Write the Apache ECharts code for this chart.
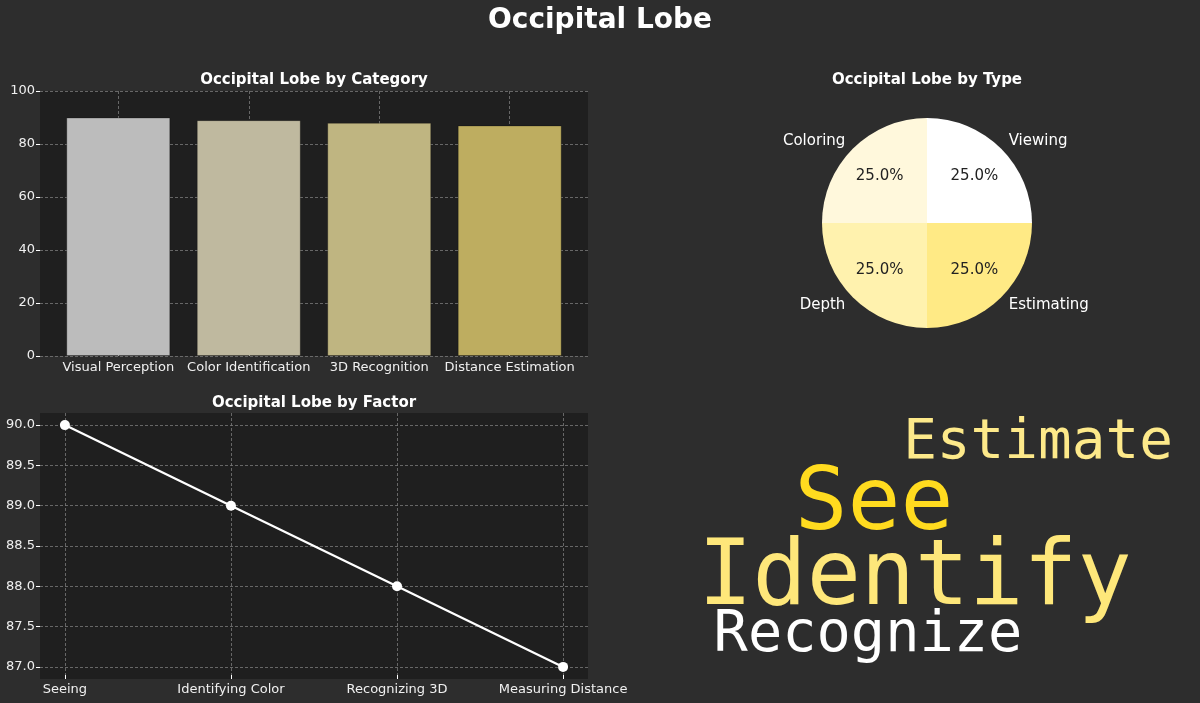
<!DOCTYPE html>
<html>
<head>
<meta charset="utf-8">
<script src="https://cdn.jsdelivr.net/npm/echarts@6/dist/echarts.min.js"></script>
<style>
html,body{margin:0;padding:0;background:#2d2d2d;}
#chart{width:1200px;height:703px;}
</style>
</head>
<body>
<div id="chart"></div>
<script>
// ---- data ----
var mainTitle = 'Occipital Lobe';
var barTitle = 'Occipital Lobe by Category';
var barCategories = ['Visual Perception', 'Color Identification', '3D Recognition', 'Distance Estimation'];
var barValues = [90, 89, 88, 87];
var barColors = ['#bcbcbc', '#bfb99f', '#bfb581', '#bead60'];
var barYTicks = [0, 20, 40, 60, 80, 100];

var pieTitle = 'Occipital Lobe by Type';
var pieNames = ['Viewing', 'Coloring', 'Depth', 'Estimating'];
var pieValues = [25, 25, 25, 25];
var pieColors = ['#ffffff', '#fff8dc', '#fff2ae', '#ffea85'];

var lineTitle = 'Occipital Lobe by Factor';
var lineCategories = ['Seeing', 'Identifying Color', 'Recognizing 3D', 'Measuring Distance'];
var lineValues = [90, 89, 88, 87];
var lineYTicks = [87.0, 87.5, 88.0, 88.5, 89.0, 89.5, 90.0];

var cloudWords = ['Estimate', 'See', 'Identify', 'Recognize'];
var cloudSizes = [56, 88, 90, 57];
var cloudColors = ['#fde98a', '#ffdb1f', '#fee77a', '#ffffff'];

// ---- chart ----
var chart = echarts.init(document.getElementById('chart'), null, {renderer: 'canvas'});
var FONT = 'DejaVu Sans';
var gridLine = {show: true, lineStyle: {color: '#7a7a7a', width: 0.8, type: [3, 2]}};
var labelStyle = {color: '#f0f0f0', fontFamily: FONT, fontSize: 13};

var barIdx = barCategories.map(function (c, i) { return i; });
var lineIdx = lineCategories.map(function (c, i) { return i; });

var cloudPos = [[1038, 443], [874, 506], [915, 581], [868, 636]];

var option = {
  backgroundColor: '#2d2d2d',
  animation: false,
  title: [
    {text: mainTitle, left: 600, textAlign: 'center', top: 7, padding: 0,
      textStyle: {color: '#ffffff', fontFamily: FONT, fontWeight: 'bold', fontSize: 28}},
    {text: barTitle, left: 314, textAlign: 'center', top: 73, padding: 0,
      textStyle: {color: '#ffffff', fontFamily: FONT, fontWeight: 'bold', fontSize: 15}},
    {text: pieTitle, left: 927, textAlign: 'center', top: 73, padding: 0,
      textStyle: {color: '#ffffff', fontFamily: FONT, fontWeight: 'bold', fontSize: 15}},
    {text: lineTitle, left: 314, textAlign: 'center', top: 396, padding: 0,
      textStyle: {color: '#ffffff', fontFamily: FONT, fontWeight: 'bold', fontSize: 15}}
  ],
  grid: [
    {left: 40, top: 91, width: 548, height: 265, show: true, backgroundColor: '#1f1f1f', borderWidth: 0},
    {left: 40, top: 413, width: 548, height: 266, show: true, backgroundColor: '#1f1f1f', borderWidth: 0}
  ],
  xAxis: [
    {gridIndex: 0, type: 'value', min: -0.6, max: 3.6,
      axisLine: {show: false, onZero: false},
      axisTick: {show: true, inside: true, length: 4, customValues: barIdx, lineStyle: {color: '#ffffff'}},
      axisLabel: Object.assign({customValues: barIdx, margin: 5, formatter: function (v) { return barCategories[Math.round(v)]; }}, labelStyle),
      splitLine: gridLine},
    {gridIndex: 1, type: 'value', min: -0.15, max: 3.15,
      axisLine: {show: false, onZero: false},
      axisTick: {show: true, inside: true, length: 4, customValues: lineIdx, lineStyle: {color: '#ffffff'}},
      axisLabel: Object.assign({customValues: lineIdx, margin: 4, formatter: function (v) { return lineCategories[Math.round(v)]; }}, labelStyle),
      splitLine: gridLine}
  ],
  yAxis: [
    {gridIndex: 0, type: 'value', min: 0, max: 100, interval: 20,
      axisLine: {show: false, onZero: false},
      axisTick: {show: true, length: 4, customValues: barYTicks, lineStyle: {color: '#ffffff'}},
      axisLabel: Object.assign({customValues: barYTicks, margin: 5}, labelStyle),
      splitLine: gridLine},
    {gridIndex: 1, type: 'value', min: 86.85, max: 90.15,
      axisLine: {show: false, onZero: false},
      axisTick: {show: true, length: 4, customValues: lineYTicks, lineStyle: {color: '#ffffff'}},
      axisLabel: Object.assign({customValues: lineYTicks, margin: 5, formatter: function (v) { return v.toFixed(1); }}, labelStyle),
      splitLine: gridLine}
  ],
  series: [
    {type: 'bar', xAxisIndex: 0, yAxisIndex: 0, barWidth: 104,
      data: barValues.map(function (v, i) {
        return {value: [i, v], itemStyle: {color: barColors[i], borderColor: 'rgba(0,0,0,0.25)', borderWidth: 1}};
      })},
    {type: 'line', xAxisIndex: 1, yAxisIndex: 1,
      data: lineValues.map(function (v, i) { return [i, v]; }),
      symbol: 'circle', symbolSize: 10,
      lineStyle: {color: '#ffffff', width: 2.2},
      itemStyle: {color: '#ffffff'}},
    {type: 'pie', center: [927, 223], radius: 105, startAngle: 0, clockwise: false,
      avoidLabelOverlap: false, silent: true,
      data: pieValues.map(function (v, i) { return {name: pieNames[i], value: v, itemStyle: {color: pieColors[i]}}; }),
      itemStyle: {borderWidth: 0},
      label: {show: true, position: 'outside', color: '#ffffff', fontFamily: FONT, fontSize: 15,
        distanceToLabelLine: 0, formatter: '{b}'},
      labelLine: {show: false, length: 10.5, length2: 0}},
    {type: 'pie', center: [927, 223], radius: [43, 85], startAngle: 0, clockwise: false,
      avoidLabelOverlap: false, silent: true, z: 5,
      data: pieValues.map(function (v, i) { return {name: pieNames[i], value: v}; }),
      itemStyle: {color: 'rgba(0,0,0,0)'},
      label: {show: true, position: 'inside', color: '#222222', fontFamily: FONT, fontSize: 15,
        formatter: function (p) { return p.percent.toFixed(1) + '%'; }},
      labelLine: {show: false}}
  ],
  graphic: cloudWords.map(function (w, i) {
    return {type: 'text', x: cloudPos[i][0], y: cloudPos[i][1], silent: true,
      style: {text: w, fill: cloudColors[i], fontFamily: 'DejaVu Sans Mono', fontSize: cloudSizes[i],
        textAlign: 'center', textVerticalAlign: 'middle'}};
  })
};
chart.setOption(option);
</script>
</body>
</html>
